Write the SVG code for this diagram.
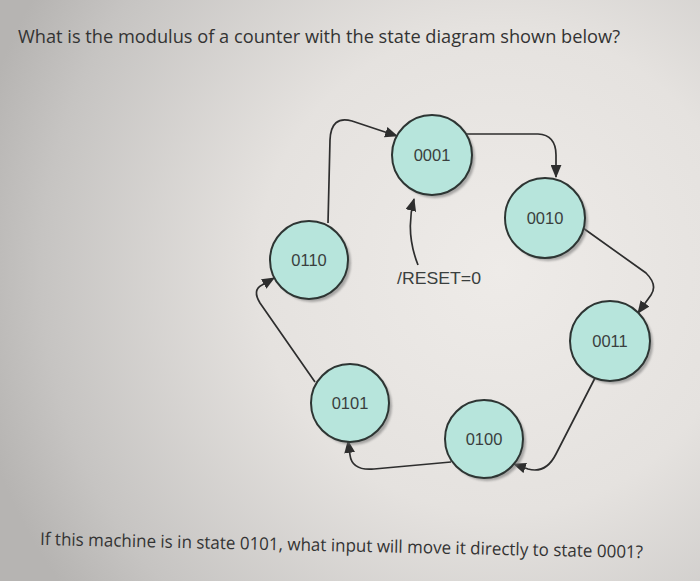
<svg xmlns="http://www.w3.org/2000/svg" width="700" height="581" viewBox="0 0 700 581">
<defs>
<radialGradient id="bg" cx="500" cy="270" r="540" gradientUnits="userSpaceOnUse">
<stop offset="0" stop-color="#eeebe8"/>
<stop offset="0.45" stop-color="#e5e2df"/>
<stop offset="0.85" stop-color="#c6c4c2"/>
<stop offset="1" stop-color="#b6b4b2"/>
</radialGradient>
<filter id="blur" x="-20%" y="-20%" width="140%" height="140%"><feGaussianBlur stdDeviation="1.2"/></filter>
<marker id="arr" viewBox="0 0 12 10" refX="11" refY="5" markerWidth="13" markerHeight="11" markerUnits="userSpaceOnUse" orient="auto">
<path d="M0,0 L12,5 L0,10 z" fill="#2e2e2e"/>
</marker>
</defs>
<style>
.st circle.sh{fill:#6f6f6f;opacity:0.55;filter:url(#blur)}
.st circle.c{fill:#b7e5dc;stroke:#2d3533;stroke-width:2}
.st text{font-family:"Liberation Sans",Arial,sans-serif;font-size:16.5px;fill:#3a3f3e;text-anchor:middle}
.edge{fill:none;stroke:#2e2e2e;stroke-width:1.7;marker-end:url(#arr)}
.q{font-family:"Open Sans","Noto Sans",sans-serif;fill:#333333}
</style>
<rect x="0" y="0" width="700" height="581" fill="url(#bg)"/>
<text class="q" x="18" y="43" font-size="18.5" textLength="602" lengthAdjust="spacingAndGlyphs">What is the modulus of a counter with the state diagram shown below?</text>
<g id="connectors">
<path class="edge" d="M466,134 L538,134 Q556,135 556,155 L556,177"/>
<path class="edge" d="M583,228 L646,273 Q658,285 651,295 L638,313"/>
<path class="edge" d="M595,378 L556,454 Q546,474 528,469 L514,464"/>
<path class="edge" d="M451,462 L374,469 Q352,471 350,455 L348,441"/>
<path class="edge" d="M315,382 L260,303 Q252,290 262,285 L274,278"/>
<path class="edge" d="M328,223 L330,140 Q331,115 352,121 L397,136"/>
<path class="edge" d="M418,265 Q405,232 414,199"/>
</g>
<g id="n0001" class="st"><circle class="sh" cx="435" cy="158" r="40"/><circle class="c" cx="432" cy="155" r="40"/><text x="432" y="161">0001</text></g>
<g id="n0010" class="st"><circle class="sh" cx="548" cy="221" r="40"/><circle class="c" cx="545" cy="218" r="40"/><text x="545" y="224">0010</text></g>
<g id="n0011" class="st"><circle class="sh" cx="613" cy="344" r="40"/><circle class="c" cx="610" cy="341" r="40"/><text x="610" y="347">0011</text></g>
<g id="n0100" class="st"><circle class="sh" cx="487" cy="442" r="39"/><circle class="c" cx="484" cy="439" r="39"/><text x="484" y="445">0100</text></g>
<g id="n0101" class="st"><circle class="sh" cx="353" cy="406" r="39"/><circle class="c" cx="350" cy="403" r="39"/><text x="350" y="409">0101</text></g>
<g id="n0110" class="st"><circle class="sh" cx="312" cy="263" r="39"/><circle class="c" cx="309" cy="260" r="39"/><text x="309" y="266">0110</text></g>
<text x="397" y="284" font-family="Liberation Sans, Arial, sans-serif" font-size="16.5" fill="#3a3f3e" textLength="84" lengthAdjust="spacingAndGlyphs">/RESET=0</text>
<text class="q" x="40" y="545" font-size="17.5" textLength="603" lengthAdjust="spacingAndGlyphs" transform="rotate(1.24 40 545)">If this machine is in state 0101, what input will move it directly to state 0001?</text>
</svg>
